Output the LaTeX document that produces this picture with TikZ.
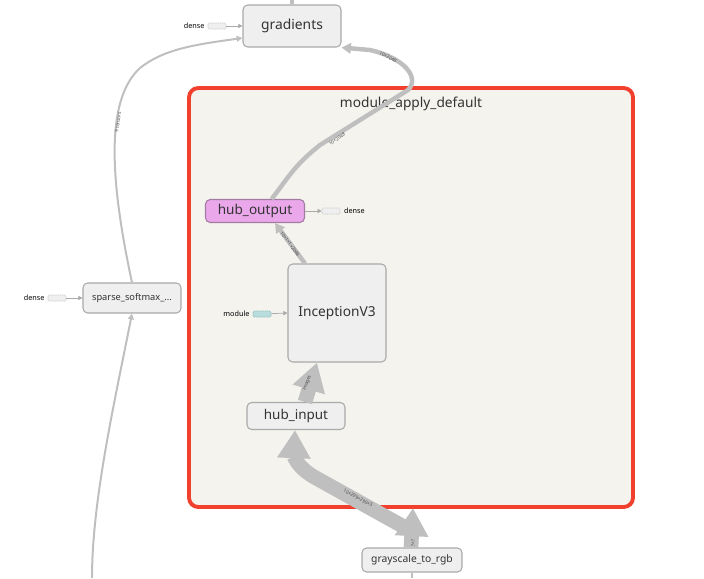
\documentclass[tikz,border=0pt]{standalone}
\usepackage{fontspec}
\setmainfont{Noto Sans}
\usetikzlibrary{arrows.meta,positioning}

\definecolor{nodefill}{HTML}{EFEFEF}
\definecolor{nodeborder}{HTML}{A9A9A9}
\definecolor{textcol}{HTML}{333333}
\definecolor{edgecol}{HTML}{BFBFBF}
\definecolor{clusterfill}{HTML}{F4F3EE}
\definecolor{clusterborder}{HTML}{F2402F}
\definecolor{hubfill}{HTML}{EAA8EA}
\definecolor{hubborder}{HTML}{A27AA2}
\definecolor{stubborder}{HTML}{C8C8C8}
\definecolor{modfill}{HTML}{B9DCDC}
\definecolor{modborder}{HTML}{8FBDBD}

\tikzset{
	op/.style={draw=nodeborder, fill=nodefill, line width=0.9pt,
		rounded corners=4pt, inner sep=0pt, text=textcol},
	stub/.style={draw=stubborder, fill=nodefill, dash pattern=on 1pt off 0.6pt,
		line width=0.5pt, rounded corners=1pt, inner sep=0pt,
		minimum width=0.54cm, minimum height=0.18cm},
	stubtext/.style={font=\fontsize{6.2}{7}\selectfont, inner sep=0pt, text=black},
	edge/.style={draw=edgecol, line width=1.7pt,
		-{Triangle[length=5pt,width=5pt]}},
	midedge/.style={draw=edgecol, line width=3.8pt,
		-{Triangle[length=8pt,width=9pt]}},
	bigedge/.style={draw=edgecol, line width=12.5pt,
		-{Triangle[length=24pt,width=27pt]}},
	inedge/.style={draw=nodeborder, line width=0.6pt,
		-{Triangle[length=3.5pt,width=3.5pt]}},
	elabel/.style={font=\fontsize{4}{4}\selectfont, text=black!70, inner sep=0.3pt},
}

\begin{document}
\begin{tikzpicture}[x=0.03cm, y=-0.03cm]

% frame %{{{1

	\useasboundingbox (0,0) rectangle (704,578);

% cluster %{{{1

	\draw[draw=clusterborder, fill=clusterfill, line width=3.3pt, rounded corners=8pt]
		(189,88) rectangle (633,507);
	\node[text=textcol, font=\fontsize{11.7}{13}\selectfont] (title) at (411,104) {module\_apply\_default};

% nodes %{{{1

	\node[op, minimum width=2.94cm, minimum height=1.26cm, font=\fontsize{11.8}{13}\selectfont]
		(gradients) at (292,26) {gradients};
	\node[op, minimum width=2.94cm, minimum height=0.9cm, font=\fontsize{7.9}{9}\selectfont]
		(sparse) at (132,298) {sparse\_softmax\_...};
	\node[op, draw=hubborder, fill=hubfill, minimum width=2.97cm, minimum height=0.69cm,
		font=\fontsize{11.6}{13}\selectfont]
		(hubout) at (255,211) {hub\_output};
	\node[op, minimum width=2.94cm, minimum height=2.94cm, font=\fontsize{11.7}{13}\selectfont]
		(inception) at (337,313) {InceptionV3};
	\node[op, minimum width=2.94cm, minimum height=0.81cm, font=\fontsize{11.5}{13}\selectfont]
		(hubin) at (296,416) {hub\_input};
	\node[op, minimum width=3.0cm, minimum height=0.72cm, font=\fontsize{8.8}{10}\selectfont]
		(grayscale) at (412,560) {grayscale\_to\_rgb};

% free ends %{{{1

	\coordinate (gradtop) at (292,0);
	\coordinate (bottomin) at (92,578);
	\coordinate (graybottom) at (412,578);
	\coordinate (grayin) at (413,508);
	\coordinate (grayout) at (406,528);

% small inputs %{{{1

	\node[stub] (gradstub) at (217,26) {};
	\node[stubtext, left=2.5pt of gradstub] (gradstubtext) {dense};
	\node[stub] (sparsestub) at (57,298) {};
	\node[stubtext, left=2.5pt of sparsestub] (sparsestubtext) {dense};
	\node[stub] (hubstub) at (331,211) {};
	\node[stubtext, right=3pt of hubstub] (hubstubtext) {dense};
	\node[stub, draw=modborder, fill=modfill] (modstub) at (262,314) {};
	\node[stubtext, left=2.5pt of modstub] (modstubtext) {module};

	\draw[inedge] (gradstub) -- (gradients.west);
	\draw[inedge] (sparsestub) -- (sparse.west);
	\draw[inedge] (hubout.east) -- (hubstub);
	\draw[inedge] (modstub) -- (inception.west);

% edges %{{{1

	\draw[midedge, -] (gradients.north) -- (gradtop);
	\draw[edge, -] (grayscale.south) -- (graybottom);

	\draw[edge] (sparse.north) .. controls (110,180) and (105,100) .. (140,68)
		.. controls (165,48) and (200,44) .. ([yshift=-0.36cm]gradients.west);
	\node[elabel, rotate=82] (sparselabel) at (118,122) {9 tensors};

	\draw[edge] (bottomin) .. controls (92,500) and (115,400) .. (sparse.south);

	\draw[midedge] ([xshift=0.5cm]hubout.north) .. controls (290,175) and (295,165) .. (320,145)
		-- (408,90) .. controls (420,78) and (405,58) .. (370,50) -- (gradients.south east);
	\node[elabel, rotate=35] (outlabela) at (337,139) {10×2048};
	\node[elabel, rotate=-28] (outlabelb) at (388,57) {10×2048};

	\draw[midedge] ([xshift=-0.96cm]inception.north) -- ([xshift=0.6cm]hubout.south);
	\node[elabel, rotate=-54] (inclabel) at (290,244) {10×1×1×2048};

	\draw[bigedge] ([xshift=0.27cm]hubin.north) -- ([xshift=-0.6cm]inception.south);
	\node[elabel, rotate=70] (hubinlabel) at (307,383) {images};

	\draw[bigedge] ([xshift=-0.03cm]grayscale.north) -- (grayin);
	\node[elabel, rotate=90] (graylabel) at (413,543) {?×?};

	\draw[bigedge] (grayout) -- (316,478) .. controls (296,467) and (294,455)
		.. ([xshift=-0.03cm]hubin.south);
	\node[elabel, rotate=-28] (gridlabel) at (358,498) {10×299×299×3};

% closing %{{{1

\end{tikzpicture}
\end{document}
